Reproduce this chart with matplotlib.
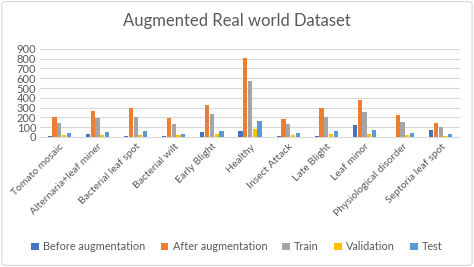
import numpy as np
import matplotlib.pyplot as plt
from matplotlib.patches import FancyBboxPatch

plt.rcParams['font.family'] = ['Lato', 'DejaVu Sans']

categories = ['Tomato mosaic', 'Alternaria+leaf miner', 'Bacterial leaf spot',
              'Bacterial wilt', 'Early Blight', 'Healthy', 'Insect Attack',
              'Late Blight', 'Leaf minor', 'Physiological disorder',
              'Septoria leaf spot']
before = [15, 30, 10, 12, 50, 65, 8, 8, 125, 3, 75]
after = [200, 270, 295, 195, 330, 810, 185, 300, 375, 220, 145]
train = [140, 190, 205, 135, 230, 570, 130, 205, 260, 150, 100]
validation = [20, 25, 25, 20, 35, 80, 20, 30, 35, 20, 10]
test = [40, 50, 65, 30, 65, 160, 40, 60, 75, 45, 30]

series = [('Before augmentation', before, '#4472C4'),
          ('After augmentation', after, '#ED7D31'),
          ('Train', train, '#A5A5A5'),
          ('Validation', validation, '#FFC000'),
          ('Test', test, '#5B9BD5')]

fig = plt.figure(figsize=(4.74, 2.67), dpi=100)
ax = fig.add_axes([0.085, 0.487, 0.885, 0.33])

x = np.arange(len(categories))
step = 0.125
w = 0.11
for i, (name, vals, col) in enumerate(series):
    ax.bar(x + (i - 2) * step, vals, w, color=col, label=name, zorder=3)

ax.set_xlim(-0.5, len(categories) - 0.5)
ax.set_ylim(0, 900)
ax.set_yticks(range(0, 901, 100))
ax.grid(axis='y', color='#D9D9D9', linewidth=0.8, zorder=0)
for s in ['top', 'right', 'left']:
    ax.spines[s].set_visible(False)
ax.spines['bottom'].set_color('#D9D9D9')
ax.tick_params(axis='both', length=0, colors='#595959', labelsize=8)
ax.tick_params(axis='y', pad=3)
ax.set_xticks(x)
ax.set_xticklabels(categories, rotation=45, ha='right', rotation_mode='anchor',
                   fontsize=7.5)

fig.text(0.5, 0.92, 'Augmented Real world Dataset', ha='center', va='center',
         fontsize=12, color='#595959')

ax.legend(loc='center', bbox_to_anchor=(0.5, 0.075), bbox_transform=fig.transFigure,
          ncol=5, frameon=False, fontsize=7.8, labelcolor='#595959',
          handlelength=0.7, handleheight=0.7, handletextpad=0.4, columnspacing=1.4)

border = FancyBboxPatch((0.004, 0.006), 0.992, 0.988, transform=fig.transFigure,
                        boxstyle='round,pad=0,rounding_size=0.01',
                        facecolor='none', edgecolor='#D9D9D9', linewidth=0.8)
fig.patches.append(border)

fig.savefig('out.png', dpi=100)
